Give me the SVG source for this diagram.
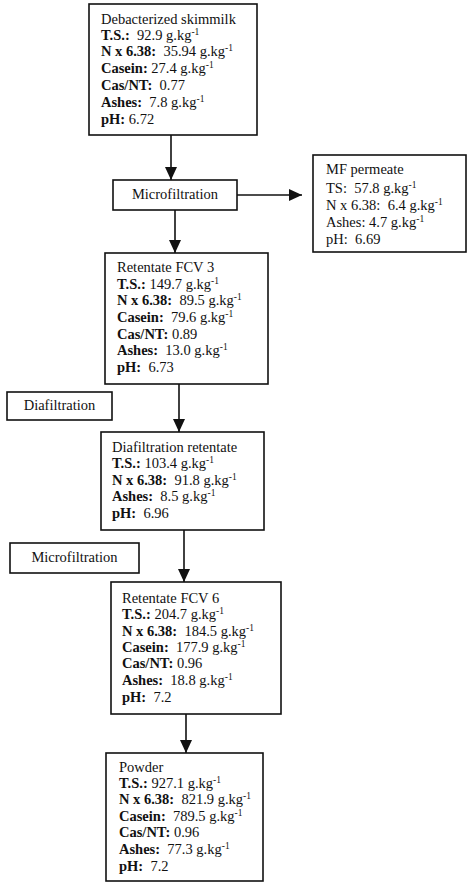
<svg xmlns="http://www.w3.org/2000/svg" width="474" height="887" viewBox="0 0 474 887">
<defs>
<style>
text { font-family: "Liberation Serif", "Times New Roman", serif; font-size: 14.5px; fill: #111; }
.b { font-weight: bold; }
.sup { font-size: 9.5px; }
.box { fill: #fff; stroke: #111; stroke-width: 1.6; }
.conn line { stroke: #111; stroke-width: 1.6; marker-end: url(#ah); }
.c { text-anchor: middle; }
</style>
<marker id="ah" markerUnits="userSpaceOnUse" markerWidth="13" markerHeight="12" refX="13" refY="6" orient="auto">
<path d="M0,0 L13,6 L0,12 z" fill="#111"/>
</marker>
</defs>
<rect width="474" height="887" fill="#fff"/>

<g id="skimmilk">
<rect class="box" x="89" y="4" width="168" height="131"/>
<text x="101" y="24">Debacterized skimmilk</text>
<text x="101" y="40"><tspan class="b">T.S.:</tspan>&#160; 92.9 g.kg<tspan class="sup" dy="-5.5">-1</tspan></text>
<text x="101" y="56"><tspan class="b">N x 6.38:</tspan>&#160; 35.94 g.kg<tspan class="sup" dy="-5.5">-1</tspan></text>
<text x="101" y="73"><tspan class="b">Casein:</tspan> 27.4 g.kg<tspan class="sup" dy="-5.5">-1</tspan></text>
<text x="101" y="90"><tspan class="b">Cas/NT:</tspan>&#160; 0.77</text>
<text x="101" y="107"><tspan class="b">Ashes:</tspan>&#160; 7.8 g.kg<tspan class="sup" dy="-5.5">-1</tspan></text>
<text x="101" y="124"><tspan class="b">pH:</tspan> 6.72</text>
</g>

<g id="microfiltration1">
<rect class="box" x="113" y="180" width="124" height="30"/>
<text class="c" x="175" y="199">Microfiltration</text>
</g>

<g id="mf-permeate">
<rect class="box" x="313" y="155" width="153" height="97"/>
<text x="326" y="174">MF permeate</text>
<text x="326" y="193">TS:&#160; 57.8 g.kg<tspan class="sup" dy="-5.5">-1</tspan></text>
<text x="326" y="210">N x 6.38:&#160; 6.4 g.kg<tspan class="sup" dy="-5.5">-1</tspan></text>
<text x="326" y="227">Ashes: 4.7 g.kg<tspan class="sup" dy="-5.5">-1</tspan></text>
<text x="326" y="244">pH:&#160; 6.69</text>
</g>

<g id="retentate-fcv3">
<rect class="box" x="105" y="253" width="163" height="131"/>
<text x="117" y="272">Retentate FCV 3</text>
<text x="117" y="289"><tspan class="b">T.S.:</tspan> 149.7 g.kg<tspan class="sup" dy="-5.5">-1</tspan></text>
<text x="117" y="305"><tspan class="b">N x 6.38:</tspan>&#160; 89.5 g.kg<tspan class="sup" dy="-5.5">-1</tspan></text>
<text x="117" y="322"><tspan class="b">Casein:</tspan>&#160; 79.6 g.kg<tspan class="sup" dy="-5.5">-1</tspan></text>
<text x="117" y="339"><tspan class="b">Cas/NT:</tspan> 0.89</text>
<text x="117" y="355"><tspan class="b">Ashes:</tspan>&#160; 13.0 g.kg<tspan class="sup" dy="-5.5">-1</tspan></text>
<text x="117" y="372"><tspan class="b">pH:</tspan>&#160; 6.73</text>
</g>

<g id="diafiltration">
<rect class="box" x="7" y="392" width="105" height="28"/>
<text class="c" x="59.5" y="410">Diafiltration</text>
</g>

<g id="diafiltration-retentate">
<rect class="box" x="101" y="432" width="163" height="98"/>
<text x="112" y="452">Diafiltration retentate</text>
<text x="112" y="468"><tspan class="b">T.S.:</tspan> 103.4 g.kg<tspan class="sup" dy="-5.5">-1</tspan></text>
<text x="112" y="485"><tspan class="b">N x 6.38:</tspan>&#160; 91.8 g.kg<tspan class="sup" dy="-5.5">-1</tspan></text>
<text x="112" y="501"><tspan class="b">Ashes:</tspan>&#160; 8.5 g.kg<tspan class="sup" dy="-5.5">-1</tspan></text>
<text x="112" y="518"><tspan class="b">pH:</tspan>&#160; 6.96</text>
</g>

<g id="microfiltration2">
<rect class="box" x="10" y="543" width="129" height="30"/>
<text class="c" x="74.5" y="562">Microfiltration</text>
</g>

<g id="retentate-fcv6">
<rect class="box" x="111" y="582" width="170" height="132"/>
<text x="122" y="603">Retentate FCV 6</text>
<text x="122" y="619"><tspan class="b">T.S.:</tspan> 204.7 g.kg<tspan class="sup" dy="-5.5">-1</tspan></text>
<text x="122" y="636"><tspan class="b">N x 6.38:</tspan>&#160; 184.5 g.kg<tspan class="sup" dy="-5.5">-1</tspan></text>
<text x="122" y="652"><tspan class="b">Casein:</tspan>&#160; 177.9 g.kg<tspan class="sup" dy="-5.5">-1</tspan></text>
<text x="122" y="668"><tspan class="b">Cas/NT:</tspan> 0.96</text>
<text x="122" y="685"><tspan class="b">Ashes:</tspan>&#160; 18.8 g.kg<tspan class="sup" dy="-5.5">-1</tspan></text>
<text x="122" y="702"><tspan class="b">pH:</tspan>&#160; 7.2</text>
</g>

<g id="powder">
<rect class="box" x="106" y="753" width="157" height="128"/>
<text x="119" y="772">Powder</text>
<text x="119" y="788"><tspan class="b">T.S.:</tspan> 927.1 g.kg<tspan class="sup" dy="-5.5">-1</tspan></text>
<text x="119" y="804"><tspan class="b">N x 6.38:</tspan>&#160; 821.9 g.kg<tspan class="sup" dy="-5.5">-1</tspan></text>
<text x="119" y="821"><tspan class="b">Casein:</tspan>&#160; 789.5 g.kg<tspan class="sup" dy="-5.5">-1</tspan></text>
<text x="119" y="837"><tspan class="b">Cas/NT:</tspan> 0.96</text>
<text x="119" y="854"><tspan class="b">Ashes:</tspan>&#160; 77.3 g.kg<tspan class="sup" dy="-5.5">-1</tspan></text>
<text x="119" y="871"><tspan class="b">pH:</tspan>&#160; 7.2</text>
</g>

<g id="connectors" class="conn">
<line x1="171" y1="135" x2="171" y2="180"/>
<line x1="237" y1="195" x2="302" y2="195"/>
<line x1="175" y1="210" x2="175" y2="253"/>
<line x1="179" y1="384" x2="179" y2="432"/>
<line x1="184" y1="530" x2="184" y2="582"/>
<line x1="186" y1="714" x2="186" y2="753"/>
</g>
</svg>
